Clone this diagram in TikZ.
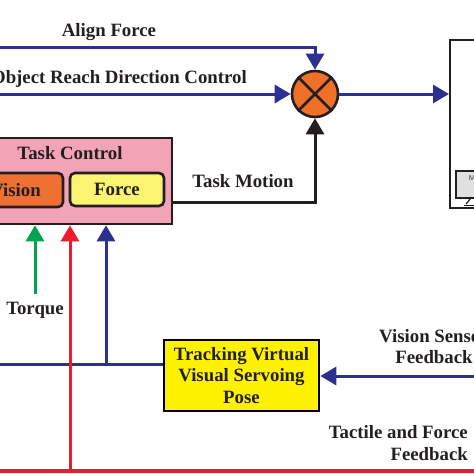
\documentclass[tikz,border=0pt]{standalone}
\usepackage{fontspec}
\setmainfont{Liberation Serif}
\usetikzlibrary{arrows.meta,positioning}
\definecolor{blueL}{RGB}{44,48,145}
\definecolor{redL}{RGB}{236,28,46}
\definecolor{greenL}{RGB}{0,163,80}
\definecolor{orangeC}{RGB}{241,112,40}
\definecolor{pinkB}{RGB}{243,163,182}
\definecolor{visionO}{RGB}{240,112,52}
\definecolor{forceY}{RGB}{250,244,112}
\definecolor{trackY}{RGB}{255,242,0}
\definecolor{ink}{RGB}{35,31,32}
\tikzset{
  lbl/.style={font=\fontsize{18.8}{21.5}\selectfont\bfseries, text=ink, inner sep=0pt, align=center},
  wire/.style={line width=3pt},
  tip/.style={-{Triangle[width=18pt,length=16pt]}},
  boxline/.style={draw=ink, line width=2.6pt},
}
\begin{document}
\begin{tikzpicture}[x=1pt,y=-1pt]
\useasboundingbox (0,0) rectangle (474,474);
\clip (0,0) rectangle (474,474);

% boxes
\node[boxline, fill=pinkB, minimum width=182pt, minimum height=86pt, inner sep=0pt] (task) at (81,181) {};
\node[lbl] (tasklbl) at (70,153) {Task Control};
\node[boxline, fill=visionO, rounded corners=5pt, minimum width=95pt, minimum height=34pt, lbl] (vision) at (15.5,190) {Vision};
\node[boxline, fill=forceY, rounded corners=5pt, minimum width=94pt, minimum height=33pt, lbl] (force) at (117,189.5) {Force};

\node[boxline, fill=trackY, minimum width=155pt, minimum height=71pt, lbl, draw=black] (track) at (241.5,375.5) {Tracking Virtual\\Visual Servoing\\Pose};

\node[draw=ink, line width=2pt, minimum width=60pt, minimum height=168pt, inner sep=0pt] (robot) at (480,124) {};
% monitor
\node[draw=ink, line width=2pt, fill=black!12, minimum width=30pt, minimum height=27pt, inner sep=0pt, anchor=north west] (monitor) at (455,170) {};
\node[font=\fontsize{7}{8}\selectfont\sffamily, text=ink, anchor=north] (mlbl) at (472,172) {M};
\coordinate (standA) at (466,204);
\coordinate (standB) at (471,198);
\draw[ink, line width=1.2pt] (standA) -- (standB);
\coordinate (standC) at (464,205);
\coordinate (standD) at (474,205);
\draw[ink, line width=0.8pt] (standC) -- (standD);

% summing junction
\node[draw=ink, fill=orangeC, circle, line width=2.6pt, minimum size=46pt, inner sep=0pt] (mix) at (315,94) {};
\draw[ink, line width=2.6pt] (mix.north east) -- (mix.south west);
\draw[ink, line width=2.6pt] (mix.north west) -- (mix.south east);

% align force
\coordinate (alignS) at (0,47);
\coordinate (alignC) at (315,47);
\draw[wire, blueL, tip] (alignS) -- (alignC) -- (mix.north);
\node[lbl] (alignlbl) at (109,32) {Align Force};

% object reach
\coordinate (reachS) at (0,94);
\draw[wire, blueL, tip] (reachS) -- (mix.west);
\node[lbl, anchor=east] (reachlbl) at (247,79) {Object Reach Direction Control};

% output to robot
\draw[wire, blueL, tip] (mix.east) -- (robot.west |- mix.east);

% task motion
\coordinate (tmC) at (315,202);
\draw[wire, ink, tip] (task.east |- tmC) -- (tmC) -- (mix.south);
\node[lbl] (tmlbl) at (243,181) {Task Motion};

% green torque
\coordinate (torqueS) at (35,294);
\draw[wire, greenL, tip] (torqueS) -- (torqueS |- task.south);
\node[lbl] (torquelbl) at (35,310) {Torque};

% blue vision feedback loop
\coordinate (blueS) at (0,364);
\coordinate (blueJ) at (106,364);
\draw[wire, blueL] (blueS) -- (track.west |- blueS);
\draw[wire, blueL, tip] (blueJ) -- (blueJ |- task.south);

\coordinate (vsS) at (480,376);
\draw[wire, blueL, tip] (vsS) -- (track.east |- vsS);
\node[lbl] (vslbl) at (434,346.5) {Vision Sensor\\Feedback};

% red tactile
\coordinate (redS) at (0,471);
\coordinate (redE) at (480,471);
\coordinate (redJ) at (70,471);
\draw[line width=3.6pt, redL] (redS) -- (redE);
\draw[wire, redL, tip] (redJ) -- (redJ |- task.south);
\node[lbl, align=right, anchor=east] (tflbl) at (468,443) {Tactile and Force\\Feedback};
\end{tikzpicture}
\end{document}
